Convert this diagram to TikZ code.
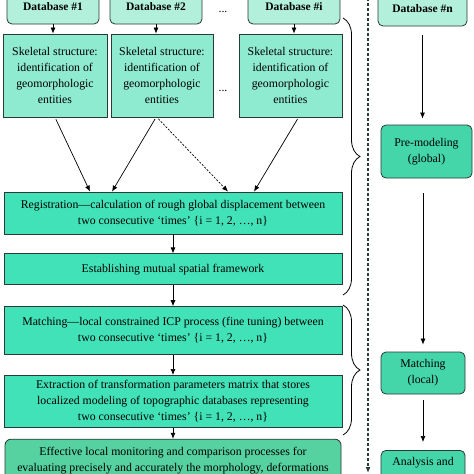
\documentclass[tikz,border=0pt]{standalone}
\usepackage{fontspec}
\setmainfont{Liberation Serif}
\usepackage{tikz}
\usetikzlibrary{arrows.meta, positioning, decorations.pathreplacing}
\usepackage{xcolor}

\definecolor{dbgreen}{HTML}{B2F0DC}
\definecolor{skelgreen}{HTML}{8EEBCF}
\definecolor{procgreen}{HTML}{42E2B8}
\definecolor{sidegreen}{HTML}{44D6A8}
\definecolor{effgreen}{HTML}{55D2A0}
\definecolor{edgegray}{HTML}{2A3A34}

\begin{document}
\begin{tikzpicture}[
x=1pt, y=-1pt,
font=\fontsize{11.8}{16}\selectfont,
node distance=20pt,
dbbox/.style={draw=edgegray, fill=dbgreen, rounded corners=5pt, line width=0.8pt, minimum width=92pt, minimum height=34pt, font=\fontsize{11.5}{15}\selectfont\bfseries},
skelbox/.style={draw=edgegray, fill=skelgreen, line width=0.8pt, minimum width=103pt, minimum height=83pt, align=center, inner xsep=1pt},
procbox/.style={draw=edgegray, fill=procgreen, line width=0.8pt, minimum width=338pt, align=center, inner ysep=2pt},
sidebox/.style={draw=edgegray, fill=sidegreen, rounded corners=5pt, line width=0.8pt, minimum width=84pt, align=center},
arrow/.style={-{Latex[length=6pt, width=5pt]}, line width=0.7pt},
brace/.style={decorate, decoration={brace, amplitude=17pt}, line width=0.8pt},
dashline/.style={-{Latex[length=6pt, width=5pt]}, line width=1.3pt, dash pattern=on 3pt off 2pt, draw=edgegray} ]

\useasboundingbox (0,0) rectangle (474,474);
\clip (0,0) rectangle (474,474);

% databases
\node[dbbox] (db1) at (53,7) {Database \#1};
\node[dbbox] (db2) at (156,7) {Database \#2};
\node[dbbox] (dbi) at (294,7) {Database \#i};
\node[dbbox, minimum width=89pt] (dbn) at (422.5,9) {Database \#n};
\node (dots1) at (223,12) {...};

% skeletal structures
\node[skelbox, minimum width=104pt] (skel1) at (55,75.5) {Skeletal structure:\\identification of\\geomorphologic\\entities};
\node[skelbox, minimum width=102pt] (skel2) at (162,75.5) {Skeletal structure:\\identification of\\geomorphologic\\entities};
\node[skelbox] (skeli) at (290.5,75.5) {Skeletal structure:\\identification of\\geomorphologic\\entities};
\node (dots2) at (223,91) {...};

% main chain
\node[procbox, minimum height=42pt] (reg) at (173,213) {Registration—calculation of rough global displacement between\\two consecutive `times' \{i = 1, 2, …, n\}};
\node[procbox, minimum height=31pt, below=19pt of reg] (frame) {Establishing mutual spatial framework};
\node[procbox, minimum height=48pt, below=21pt of frame] (match) {Matching—local constrained ICP process (fine tuning) between\\two consecutive `times' \{i = 1, 2, …, n\}};
\node[procbox, minimum height=52pt, below=20pt of match] (extract) {Extraction of transformation parameters matrix that stores\\localized modeling of topographic databases representing\\two consecutive `times' \{i = 1, 2, …, n\}};
\node[procbox, fill=effgreen, rounded corners=6pt, minimum width=336pt, minimum height=43pt, below=11pt of extract] (effect) {Effective local monitoring and comparison processes for\\evaluating precisely and accurately the morphology, deformations};

% right column
\node[sidebox, minimum width=91pt, minimum height=53pt] (premod) at (426.5,151.5) {Pre-modeling\\(global)};
\node[sidebox, minimum height=42pt] (matchloc) at (423,373) {Matching\\(local)};
\node[sidebox, anchor=north, text height=8pt, text depth=20pt, inner ysep=7pt] (analysis) at (423,450) {Analysis and};

\coordinate (dtop) at (368,-2);
\coordinate (dbot) at (368,473);

\draw[arrow] (db1.south) -- (db1.south |- skel1.north);
\draw[arrow] (db2.south) -- (db2.south |- skel2.north);
\draw[arrow] (dbi.south) -- (dbi.south |- skeli.north);

\draw[arrow, shorten <=2pt] (skel1.south) -- ([xshift=-83pt]reg.north);
\draw[arrow, shorten <=2pt] ([xshift=-6pt]skel2.south) -- ([xshift=-61pt]reg.north);
\draw[arrow, shorten <=2pt, dash pattern=on 2pt off 1.5pt] ([xshift=-5pt]skel2.south) -- ([xshift=55pt]reg.north);
\draw[arrow, shorten <=2pt] ([xshift=8pt]skeli.south) -- ([xshift=81pt]reg.north);

\draw[arrow] (reg) -- (frame);
\draw[arrow] (frame) -- (match);
\draw[arrow] (match) -- (extract);
\draw[arrow] (extract) -- (effect);

\draw[arrow, shorten <=9pt, shorten >=6pt] (dbn.south) -- (dbn.south |- premod.north);
\draw[arrow, shorten <=15pt, shorten >=7pt] (matchloc.north |- premod.south) -- (matchloc.north);
\draw[arrow, shorten <=6pt, shorten >=8pt] (matchloc.south) -- (analysis.north);

\draw[dashline] (dtop) -- (dbot);

\draw[brace] (343,18) -- (343,295);
\draw[brace] (343,305) -- (343,435);

\end{tikzpicture}
\end{document}
